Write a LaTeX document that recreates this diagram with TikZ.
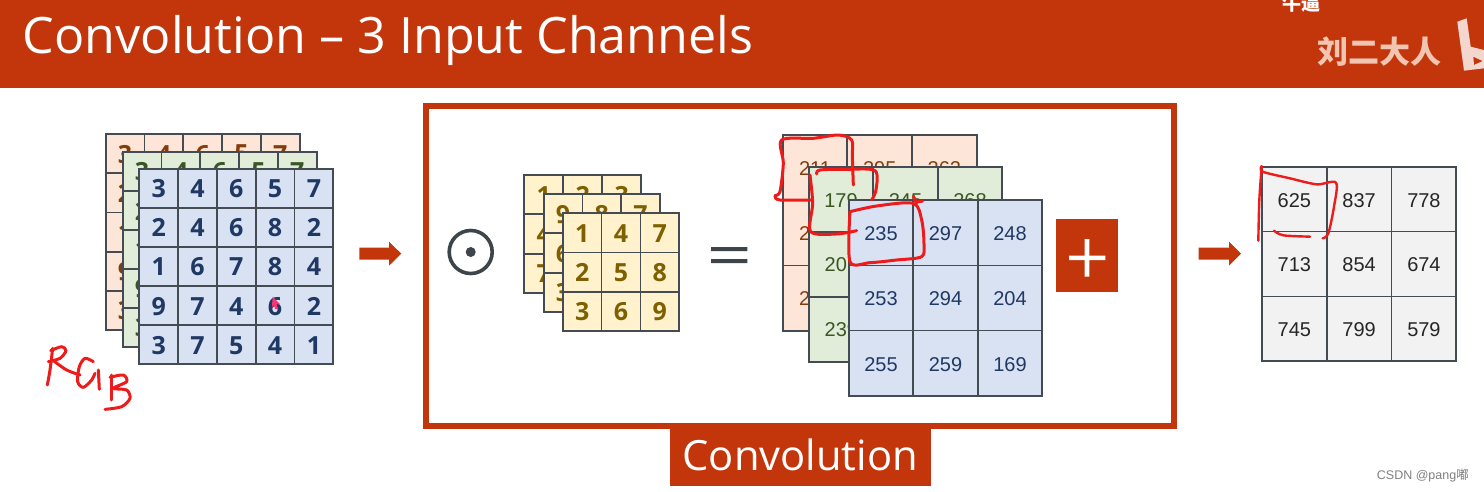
\documentclass[tikz,border=0pt]{standalone}
\usepackage{fontspec}
\setmainfont{Open Sans}
\newfontfamily\arialf{Liberation Sans}
\newfontfamily\cjkf{Noto Sans CJK SC}
\definecolor{accent}{HTML}{C3360B}
\definecolor{ink}{HTML}{EE1B1B}
\definecolor{gline}{HTML}{444B52}
\definecolor{fr}{HTML}{FDE6D8}
\definecolor{fg}{HTML}{E1ECD9}
\definecolor{fb}{HTML}{D9E2F3}
\definecolor{fy}{HTML}{FFF2CC}
\definecolor{fw}{HTML}{F2F2F2}
\definecolor{tr}{HTML}{843C0C}
\definecolor{tg}{HTML}{385723}
\definecolor{tb}{HTML}{1F3864}
\definecolor{ty}{HTML}{7F6000}
\definecolor{tw}{HTML}{262626}
\definecolor{authorc}{HTML}{F2C4B2}
\tikzset{
  gridrule/.style={draw=gline,line width=1.8pt},
  bignum/.style={inner sep=0pt,yshift=-.5pt,font=\fontsize{25}{25}\selectfont\bfseries},
  smallnum/.style={inner sep=0pt,yshift=-1pt,font=\arialf\fontsize{20}{20}\selectfont},
  pen/.style={draw=ink,line width=3pt,line cap=round,line join=round},
  titletext/.style={inner sep=0pt,anchor=base west,text=white},
}
% \layer{x0}{y0}{x1}{y1}{columns}{rows}{fill}
\newcommand\layer[7]{%
  \path[gridrule,fill=#7] (#1,#2) rectangle (#3,#4);
  \foreach \i in {1,...,\numexpr#5-1\relax}
    \draw[gridrule] ({#1+(#3-#1)*\i/#5},#2) -- ({#1+(#3-#1)*\i/#5},#4);
  \foreach \i in {1,...,\numexpr#6-1\relax}
    \draw[gridrule] (#1,{#2+(#4-#2)*\i/#6}) -- (#3,{#2+(#4-#2)*\i/#6});
}
% \cellsat{prefix}{x0}{y0}{cw}{ch}{style}{c/r/text list}
\newcommand\cellsat[7]{%
  \foreach \c/\r/\t in {#7}
    \node[#6] (#1-\c-\r) at ({#2+(\c+.5)*#4},{#3+(\r+.5)*#5}) {\t};
}
\begin{document}
\begin{tikzpicture}[x=1pt,y=-1pt]
\useasboundingbox (0,0) rectangle (1484,491);
\fill[white] (0,0) rectangle (1484,491);
% header
\fill[accent] (0,0) rectangle (1484,88);
\begin{scope}
\clip (0,0) rectangle (1484,491);
\node[titletext,font=\fontsize{50.2}{51}\selectfont] (title) at (22.8,53) {Convolution – 3 Input Channels};
\node[inner sep=0pt,font=\cjkf\bfseries\fontsize{19}{19}\selectfont,text=white] (badge) at (1301,3) {牛逼};
\node[inner sep=0pt,font=\cjkf\bfseries\fontsize{31}{31}\selectfont,text=authorc] (author) at (1379,52) {刘二大人};
\fill[even odd rule,fill=white!80!accent] (1457.3,21.7) -- (1466.7,18.3) -- (1470.7,46.7) -- (1484,50) -- (1484,68.3) -- (1464,70.7) -- cycle
  (1473.3,56.7) -- (1482.7,61) -- (1474,65) -- cycle;
\end{scope}
% input stack
\layer{105.7}{134}{299.7}{330}{5}{5}{fr}
\cellsat{ir}{105.7}{134}{38.8}{39.2}{bignum,text=tr}{0/0/3,1/0/4,2/0/6,3/0/5,4/0/7,0/1/2,0/2/1,0/3/9,0/4/3}
\layer{122.7}{152}{316.7}{347}{5}{5}{fg}
\cellsat{ig}{122.7}{152}{38.8}{39}{bignum,text=tg}{0/0/3,1/0/4,2/0/6,3/0/5,4/0/7,0/1/2,0/2/1,0/3/9,0/4/3}
\layer{139.3}{168.7}{333.3}{364.3}{5}{5}{fb}
\cellsat{ib}{139.3}{168.7}{38.8}{39.12}{bignum,text=tb}{0/0/3,1/0/4,2/0/6,3/0/5,4/0/7,0/1/2,1/1/4,2/1/6,3/1/8,4/1/2,0/2/1,1/2/6,2/2/7,3/2/8,4/2/4,0/3/9,1/3/7,2/3/4,3/3/6,4/3/2,0/4/3,1/4/7,2/4/5,3/4/4,4/4/1}
% pointer
\fill[red!70!magenta!80!white] (272.7,296.7) -- (280,304) -- (276.5,304.5) -- (278,309) -- (275,309) -- (274,305) -- (272,307) -- cycle;
% arrows
\fill[accent] (359.3,247.7) -- (389,247.7) -- (389,241.7) -- (401.3,253.7) -- (389,265.7) -- (389,259.7) -- (359.3,259.7) -- cycle;
\fill[accent] (1198.5,247.7) -- (1229,247.7) -- (1229,241.7) -- (1241,253.7) -- (1229,265.7) -- (1229,259.7) -- (1198.5,259.7) -- cycle;
% frame
\draw[accent,line width=6.2pt] (426,105.7) rectangle (1174,426.3);
\fill[accent] (670,429) rectangle (930.5,486);
\node[titletext,font=\fontsize{41.7}{42}\selectfont] (convlabel) at (682.3,470) {Convolution};
% odot
\draw[gline!90!black,line width=3.6pt] (470.7,252) circle (21.5);
\fill[gline!90!black] (470.7,252) circle (5);
% kernel stack
\layer{524.3}{175}{641.3}{293}{3}{3}{fy}
\cellsat{kr}{524.3}{175}{39}{39.33}{bignum,text=ty}{0/0/1,1/0/2,2/0/3,0/1/4,0/2/7}
\layer{543.7}{194}{660}{312}{3}{3}{fy}
\cellsat{kg}{543.7}{194}{38.77}{39.33}{bignum,text=ty}{0/0/9,1/0/8,2/0/7,0/1/6,0/2/3}
\layer{562.7}{213.3}{679.3}{331}{3}{3}{fy}
\cellsat{kb}{562.7}{213.3}{38.87}{39.23}{bignum,text=ty}{0/0/1,1/0/4,2/0/7,0/1/2,1/1/5,2/1/8,0/2/3,1/2/6,2/2/9}
% equals
\fill[gline!90!black] (711,247) rectangle (747.3,251) (711,259) rectangle (747.3,263);
% result stack
\layer{782.7}{135.3}{976.7}{330.7}{3}{3}{fr}
\cellsat{rr}{782.7}{135.3}{64.67}{65.13}{smallnum,text=tr}{0/0/211,1/0/295,2/0/262}
\node[smallnum,text=tr,anchor=west] (rr-0-1) at (799,233) {2};
\node[smallnum,text=tr,anchor=west] (rr-0-2) at (799,298) {2};
\layer{808.7}{166.7}{1002.3}{361.7}{3}{3}{fg}
\cellsat{rg}{808.7}{166.7}{64.53}{65}{smallnum,text=tg}{0/0/179,1/0/245,2/0/268}
\node[smallnum,text=tg,anchor=west] (rg-0-1) at (824.5,264) {20};
\node[smallnum,text=tg,anchor=west] (rg-0-2) at (824.5,329) {239};
\layer{848.7}{200.3}{1042.3}{395.7}{3}{3}{fb}
\cellsat{rb}{848.7}{200.3}{64.53}{65.13}{smallnum,text=tb}{0/0/235,1/0/297,2/0/248,0/1/253,1/1/294,2/1/204,0/2/255,1/2/259,2/2/169}
% plus
\fill[accent] (1056,219) rectangle (1118.3,291.7);
\fill[white] (1084.7,239) rectangle (1089.3,276.7) (1069,255.5) rectangle (1105.3,260);
% final
\layer{1262}{166.7}{1456.3}{361.3}{3}{3}{fw}
\cellsat{f}{1262}{166.7}{64.77}{64.87}{smallnum,text=tw}{0/0/625,1/0/837,2/0/778,0/1/713,1/1/854,2/1/674,0/2/745,1/2/799,2/2/579}
% watermark
\node[inner sep=0pt,anchor=base east,font=\arialf\fontsize{12.5}{13}\selectfont,text=black!50] (csdn) at (1469,479) {CSDN @pang{\cjkf 嘟}};
% ink on result stack
\begin{scope}[shift={(770,120)},x=.3333pt,y=-.3333pt]
\draw[pen] plot[smooth] coordinates {(250,195) (247,110) (245,60) (205,45) (130,55) (35,60) (40,130) (30,215) (15,228) (30,240) (122,240)};
\draw[pen] plot[smooth] coordinates {(140,162) (150,150) (230,148) (315,152) (318,210) (305,240)};
\draw[pen] plot[smooth] coordinates {(120,165) (128,250) (122,335) (200,342) (260,332)};
\draw[pen] plot[smooth] coordinates {(240,275) (320,258) (430,250) (455,300) (462,370) (455,410) (380,420) (300,428) (240,425) (240,275)};
\draw[pen] (430,228) -- (440,250) (440,246) -- (458,243);
\end{scope}
\begin{scope}[shift={(1190,150)},x=.3333pt,y=-.3333pt]
\draw[pen,line width=2.4pt] plot[smooth] coordinates {(215,48) (218,65) (300,85) (380,103) (438,98) (432,170) (415,250) (398,265)};
\draw[pen,line width=2.4pt] plot[smooth] coordinates {(215,50) (208,150) (205,272)};
\draw[pen,line width=2.4pt] plot[smooth] coordinates {(252,242) (280,256) (360,260)};
\end{scope}
\begin{scope}[shift={(30,330)},x=.3333pt,y=-.3333pt]
\draw[pen] plot[smooth] coordinates {(68,55) (60,120) (52,165)};
\draw[pen] plot[smooth] coordinates {(62,62) (95,50) (108,62) (90,85) (55,95)};
\draw[pen] plot[smooth] coordinates {(70,92) (110,120) (150,135)};
\draw[pen] plot[smooth] coordinates {(190,95) (165,85) (148,110) (143,155) (160,172) (185,150) (195,130)};
\draw[pen] plot[smooth] coordinates {(205,120) (208,178)};
\draw[pen] plot[smooth] coordinates {(245,135) (245,210)};
\draw[pen] plot[smooth] coordinates {(240,142) (280,135) (290,155) (250,175) (290,180) (300,205) (275,230) (225,238)};
\end{scope}
\end{tikzpicture}
\end{document}
